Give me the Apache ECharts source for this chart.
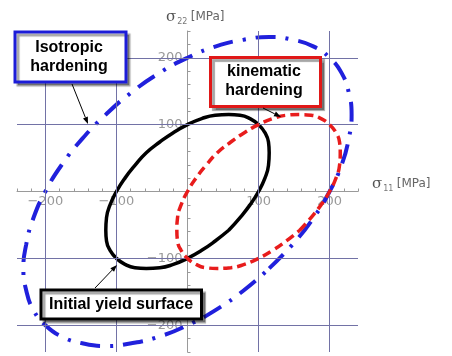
<!DOCTYPE html>
<html>
<head>
<meta charset="utf-8">
<script src="https://cdn.jsdelivr.net/npm/echarts@6/dist/echarts.min.js"></script>
<style>html,body{margin:0;padding:0;background:#fff}#c{width:452px;height:356px}</style>
</head>
<body>
<div id="c"></div>
<script>
// Initial yield surface (black, solid)
const initX = [58,74,88,100,109,114,115,114,109,100,88,74,58,39,20,0,-20,-39,-58,-74,-88,-100,-109,-114,-115,-114,-109,-100,-88,-74,-58,-39,-20,0,20,39,58];
const initY = [-58,-39,-20,0,20,39,58,74,88,100,109,114,115,114,109,100,88,74,58,39,20,0,-20,-39,-58,-74,-88,-100,-109,-114,-115,-114,-109,-100,-88,-74,-58];
// Kinematic hardening (red, dashed)
const kinX = [158,174,188,200,209,214,215,214,209,200,188,174,158,139,120,100,80,61,42,26,12,0,-9,-14,-15,-14,-9,0,12,26,42,61,80,100,120,139,158];
const kinY = [-58,-39,-20,0,20,39,58,74,88,100,109,114,115,114,109,100,88,74,58,39,20,0,-20,-39,-58,-74,-88,-100,-109,-114,-115,-114,-109,-100,-88,-74,-58];
// Isotropic hardening (blue, dash-dot)
const isoX = [115,148,177,200,217,227,231,227,217,200,177,148,115,79,40,0,-40,-79,-115,-148,-177,-200,-217,-227,-231,-227,-217,-200,-177,-148,-115,-79,-40,0,40,79,115];
const isoY = [-115,-79,-40,0,40,79,115,148,177,200,217,227,231,227,217,200,177,148,115,79,40,0,-40,-79,-115,-148,-177,-200,-217,-227,-231,-227,-217,-200,-177,-148,-115];
// Axis ticks / grid values
const tickLabelsX = [-200,-100,100,200];
const tickLabelsY = [-200,-100,100,200];
const gridLinesX = [-200,-100,100,200];
const gridLinesY = [-200,-100,100,200];

const zip = (xs, ys) => xs.map((x, i) => [x, ys[i]]);
const fmt = v => v < 0 ? '\u2212' + Math.abs(v) : String(v);

const W = 452, H = 356;
const G = { left: 17, right: 94, top: 31, bottom: 4 };
const gridW = W - G.left - G.right, gridH = H - G.top - G.bottom;

const chart = echarts.init(document.getElementById('c'));

function arrow(x1, y1, x2, y2) {
  const dx = x2 - x1, dy = y2 - y1, L = Math.hypot(dx, dy);
  const ux = dx / L, uy = dy / L, len = 7, hw = 2.6;
  const bx = x2 - ux * len, by = y2 - uy * len;
  return [
    { type: 'line', z: 100, shape: { x1: x1, y1: y1, x2: bx, y2: by }, style: { stroke: '#000', lineWidth: 1 } },
    { type: 'polygon', z: 100, shape: { points: [[x2, y2], [bx - uy * hw, by + ux * hw], [bx + uy * hw, by - ux * hw]] }, style: { fill: '#000' } }
  ];
}

function box(x, y, w, h, color, text, cx, cy) {
  return [
    { type: 'rect', z: 100, shape: { x: x, y: y, width: w, height: h },
      style: { fill: '#fff', stroke: color, lineWidth: 3, shadowColor: 'rgba(0,0,0,0.35)', shadowOffsetX: 3, shadowOffsetY: 3, shadowBlur: 1 } },
    { type: 'text', z: 101, x: cx, y: cy,
      style: { text: text, fill: '#000', font: 'bold 16px "Liberation Sans", Arial, sans-serif', align: 'center', verticalAlign: 'middle', lineHeight: 19 } }
  ];
}

const axisTitle = (x, y, sub) => ({
  type: 'text', z: 100, x: x, y: y,
  style: {
    text: '{s|σ}{b|' + sub + '} {u|[MPa]}',
    align: 'left', verticalAlign: 'middle',
    rich: {
      s: { fontSize: 15, fontFamily: 'DejaVu Serif', fill: '#555', lineHeight: 18 },
      b: { fontSize: 8, fontFamily: 'DejaVu Sans', fill: '#777', verticalAlign: 'bottom', lineHeight: 18, padding: [6, 0, 0, 1] },
      u: { fontSize: 12, fontFamily: 'DejaVu Sans', fill: '#666', lineHeight: 18 }
    }
  }
});

const axisCommon = {
  type: 'value', min: -240, max: 240, interval: 20,
  axisLine: { show: true, onZero: false, lineStyle: { color: '#9a9a9a', width: 1 } },
  axisTick: { show: true, inside: true, length: 3, lineStyle: { color: '#9a9a9a' } },
  splitLine: { show: false }
};

chart.setOption({
  animation: false,
  backgroundColor: '#fff',
  grid: { left: G.left, right: G.right, top: G.top, bottom: G.bottom, outerBoundsMode: 'none', containLabel: false },
  xAxis: Object.assign({}, axisCommon, {
    position: 'bottom', offset: -gridH / 2,
    axisLabel: { show: true, margin: 4, color: '#999', fontSize: 13, fontFamily: 'DejaVu Sans',
      formatter: v => tickLabelsX.indexOf(v) >= 0 ? fmt(v) : '' }
  }),
  yAxis: Object.assign({}, axisCommon, {
    position: 'left', offset: -gridW / 2,
    axisLabel: { show: true, margin: 5, color: '#999', fontSize: 13, fontFamily: 'DejaVu Sans',
      formatter: v => tickLabelsY.indexOf(v) >= 0 ? fmt(v) : '' }
  }),
  series: [
    {
      type: 'line', name: 'grid', data: [], silent: true, z: 1,
      markLine: {
        silent: true, symbol: 'none', animation: false, label: { show: false },
        lineStyle: { color: '#7272a6', width: 1, type: 'solid' },
        emphasis: { disabled: true },
        data: gridLinesX.map(v => ({ xAxis: v })).concat(gridLinesY.map(v => ({ yAxis: v })))
      }
    },
    {
      type: 'line', name: 'Isotropic hardening', data: zip(isoX, isoY), smooth: 0.5, showSymbol: false, z: 3,
      lineStyle: { color: '#2020dc', width: 4, type: [20, 10, 3, 10] }
    },
    {
      type: 'line', name: 'Initial yield surface', data: zip(initX, initY), smooth: 0.5, showSymbol: false, z: 4,
      lineStyle: { color: '#000', width: 3.5, type: 'solid' }
    },
    {
      type: 'line', name: 'kinematic hardening', data: zip(kinX, kinY), smooth: 0.5, showSymbol: false, z: 5,
      lineStyle: { color: '#e81c1c', width: 3.5, type: [9, 5] }
    }
  ],
  graphic: [].concat(
    [axisTitle(166, 17, '22'), axisTitle(372, 184, '11')],
    box(15, 32, 111, 50, '#1c1cd8', 'Isotropic\nhardening', 69, 57),
    box(210.5, 57.5, 110, 49, '#e01818', 'kinematic\nhardening', 264, 81),
    box(41, 290, 160.5, 29, '#000', 'Initial yield surface', 121, 304.5),
    arrow(72, 84, 88, 124),
    arrow(263, 108, 281, 117),
    arrow(95, 288, 117, 265)
  )
});
</script>
</body>
</html>
